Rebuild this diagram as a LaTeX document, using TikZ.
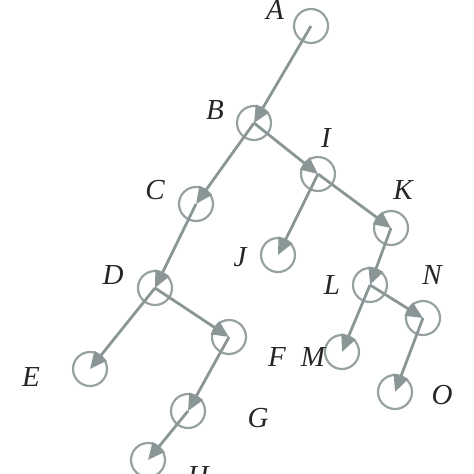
\documentclass[tikz,border=0pt]{standalone}
\usepackage{fontspec}
\setmainfont{Liberation Serif}
\usetikzlibrary{arrows.meta}
\definecolor{edgegray}{HTML}{8A9696}
\definecolor{ringgray}{HTML}{98A1A1}
\definecolor{labelink}{HTML}{262626}
\tikzset{
  vert/.style={circle,draw=ringgray,line width=2.2pt,minimum size=34pt,inner sep=0pt},
  lab/.style={font=\fontsize{29}{29}\selectfont\itshape,text=labelink,inner sep=0pt},
  edge/.style={draw=edgegray,line width=2.8pt,-{Triangle[length=17pt,width=15pt]},color=edgegray}
}
\begin{document}
\begin{tikzpicture}[x=1pt,y=-1pt]
\useasboundingbox (0,0) rectangle (474,474);
% vertices
\node[vert] (A) at (311,26) {};
\node[vert] (B) at (254,123) {};
\node[vert] (I) at (318,174) {};
\node[vert] (C) at (196,204) {};
\node[vert] (K) at (391,228) {};
\node[vert] (J) at (278,255) {};
\node[vert] (D) at (155,288) {};
\node[vert] (L) at (370,285) {};
\node[vert] (N) at (423,318) {};
\node[vert] (F) at (229,337) {};
\node[vert] (M) at (342,352) {};
\node[vert] (E) at (90,369) {};
\node[vert] (O) at (395,392) {};
\node[vert] (G) at (188,411) {};
\node[vert] (H) at (148,460) {};
% labels
\node[lab] (lA) at (275,10) {A};
\node[lab] (lB) at (215,110) {B};
\node[lab] (lI) at (326,138) {I};
\node[lab] (lC) at (155,190) {C};
\node[lab] (lK) at (403,190) {K};
\node[lab] (lJ) at (240,257) {J};
\node[lab] (lD) at (113,275) {D};
\node[lab] (lL) at (332,285) {L};
\node[lab] (lN) at (432,275) {N};
\node[lab] (lF) at (277,357) {F};
\node[lab] (lM) at (313,357) {M};
\node[lab] (lE) at (31,377) {E};
\node[lab] (lO) at (442,395) {O};
\node[lab] (lG) at (258,418) {G};
\node[lab] (lH) at (198,476) {H};
% edges
\foreach \s/\t in {A/B,B/C,B/I,C/D,D/E,D/F,F/G,G/H,I/J,I/K,K/L,L/M,L/N,N/O}
  \draw[edge] (\s.center) -- (\t.center);
\end{tikzpicture}
\end{document}
